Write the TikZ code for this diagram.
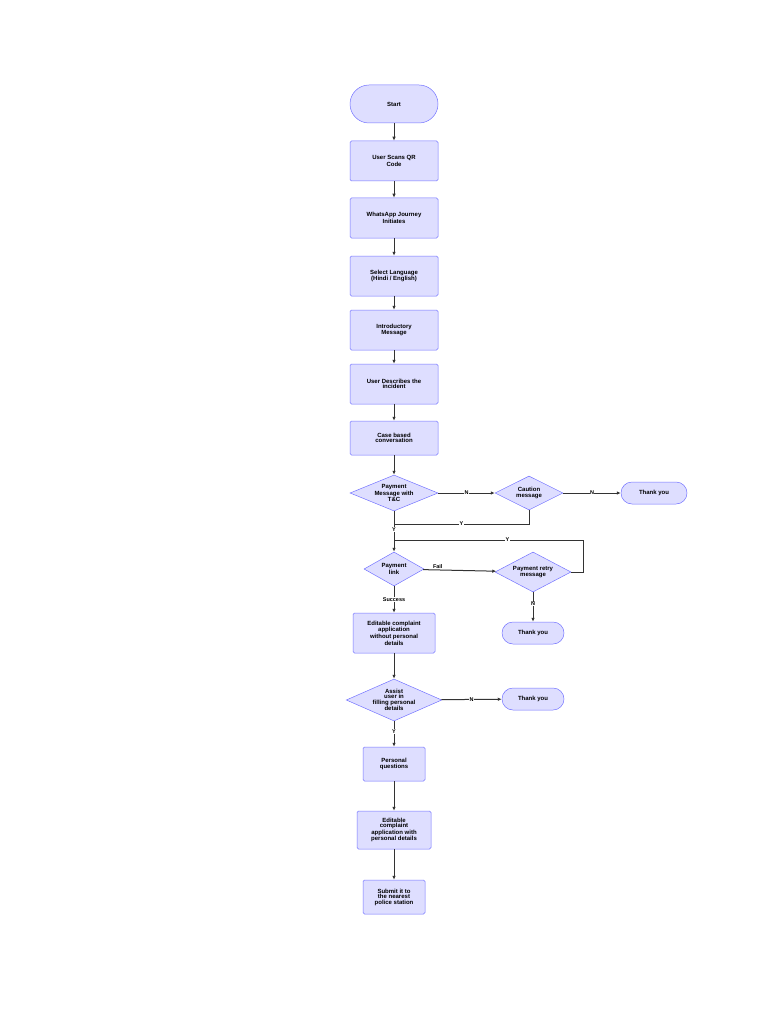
\documentclass[tikz,border=0pt]{standalone}
\usepackage{fontspec}
\setmainfont{Liberation Sans}
\usetikzlibrary{shapes.geometric,arrows.meta}
\begin{document}
\begin{tikzpicture}[x=1pt,y=-1pt,
 base/.style={draw=blue!55,fill=blue!13,line width=0.5pt,font=\fontsize{6}{5.5}\selectfont\bfseries,align=center,inner sep=1pt},
 box/.style={base,rectangle,rounded corners=1.5pt,minimum width=#1,minimum height=40pt},
 pill/.style={base,rectangle,rounded corners=11pt,minimum height=22pt,minimum width=#1},
 dec/.style={base,diamond,aspect=2.4,inner sep=0pt,minimum width=#1},
 ar/.style={draw=black!80,line width=1pt,-{Latex[length=4pt,width=3.5pt]}},
 ln/.style={draw=black!80,line width=1pt},
 lab/.style={font=\fontsize{5.5}{5}\selectfont\bfseries,fill=white,inner sep=0.5pt}]
\useasboundingbox (0,0) rectangle (768,1024);
\node[base,rectangle,rounded corners=19pt,minimum width=88pt,minimum height=38pt] (start) at (394,104) {Start};
\node[box=88pt] (scan) at (394,161) {User Scans QR\\Code};
\node[box=88pt] (wa) at (394,218) {WhatsApp Journey\\Initiates};
\node[box=88pt] (lang) at (394,276) {Select Language\\(Hindi / English)};
\node[box=88pt] (intro) at (394,330) {Introductory\\Message};
\node[box=88pt] (desc) at (394,384) {User Describes the\\incident};
\node[box=88pt,minimum height=34pt] (case) at (394,438) {Case based\\conversation};
\node[dec=88pt,minimum height=36pt] (pm) at (394,493) {Payment\\Message with\\T\&C};
\node[dec=68pt,minimum height=34pt] (caut) at (529,493) {Caution\\message};
\node[pill=66pt] (ty1) at (654,493) {Thank you};
\node[dec=60pt,minimum height=34pt] (link) at (394,569) {Payment\\link};
\node[dec=76pt,minimum height=40pt] (retry) at (533,572) {Payment retry\\message};
\node[pill=62pt] (ty2) at (533,633) {Thank you};
\node[box=82pt] (ed1) at (394,633) {Editable complaint\\application\\without personal\\details};
\node[dec=84pt,minimum height=42pt] (assist) at (394,700) {Assist\\user in\\filling personal\\details};
\node[pill=62pt] (ty3) at (533,699) {Thank you};
\node[box=62pt,minimum height=34pt] (pq) at (394,764) {Personal\\questions};
\node[box=74pt,minimum height=38pt] (ed2) at (394,830) {Editable\\complaint\\application with\\personal details};
\node[box=62pt,minimum height=34pt] (sub) at (394,897) {Submit it to\\the nearest\\police station};
\draw[ar] (start) -- (scan);
\draw[ar] (scan) -- (wa);
\draw[ar] (wa) -- (lang);
\draw[ar] (lang) -- (intro);
\draw[ar] (intro) -- (desc);
\draw[ar] (desc) -- (case);
\draw[ar] (case) -- (pm);
\draw[ar] (pm) -- node[lab]{N} (caut);
\draw[ar] (caut) -- node[lab]{N} (ty1);
\draw[ln] (caut.south) |- node[lab,pos=0.75]{Y} (394,524);
\draw[ar] (pm.south) -- node[lab,pos=0.45]{Y} (link.north);
\draw[ln] (retry.east) -- ++(12,0) |- node[lab,pos=0.7]{Y} (394,540);
\draw[ar] (link) -- node[lab,above,fill=none,pos=0.2]{Fail} (retry);
\draw[ar] (retry) -- node[lab,pos=0.4]{N} (ty2);
\draw[ar] (link) -- node[lab]{Success} (ed1);
\draw[ar] (ed1) -- (assist);
\draw[ar] (assist) -- node[lab]{N} (ty3);
\draw[ar] (assist) -- node[lab,pos=0.4]{Y} (pq);
\draw[ar] (pq) -- (ed2);
\draw[ar] (ed2) -- (sub);
\end{tikzpicture}
\end{document}
